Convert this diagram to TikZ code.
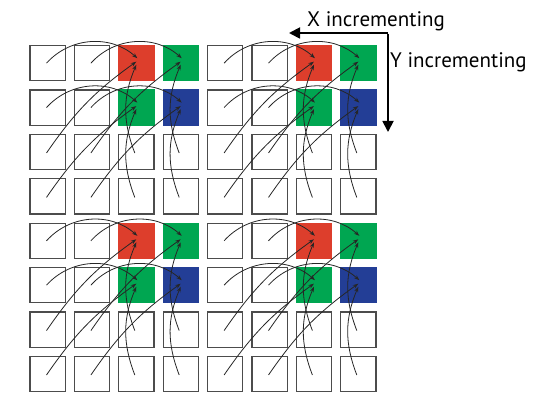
\documentclass[tikz,border=0pt]{standalone}
\usepackage{fontspec}
\setmainfont{PT Sans}
\usetikzlibrary{arrows.meta}

\definecolor{bayerred}{RGB}{221,62,44}
\definecolor{bayergreen}{RGB}{0,166,81}
\definecolor{bayerblue}{RGB}{35,62,150}

\begin{document}
\begin{tikzpicture}[
  x=1pt,
  y=-1pt,
  >=Stealth,
  every node/.style={font=\fontsize{21}{23}\selectfont},
  px0/.style={draw=black!70, line width=1.2pt, minimum size=35.2pt, inner sep=0pt, outer sep=0pt},
  px1/.style={fill=bayerred, minimum size=36.4pt, inner sep=0pt, outer sep=0pt},
  px2/.style={fill=bayergreen, minimum size=36.4pt, inner sep=0pt, outer sep=0pt},
  px3/.style={fill=bayerblue, minimum size=36.4pt, inner sep=0pt, outer sep=0pt},
  map/.style={->, draw=black!85, line width=0.8pt, >={Stealth[length=5.5pt,width=4pt]}},
  dir/.style={-{Triangle[length=11pt,width=11pt]}, line width=1.8pt},
]
  \useasboundingbox (0,0) rectangle (535,419);
  \def\pitch{44.4}
  \def\xo{47.5}
  \def\yo{63.2}

  % Pixel grid: 8x8, a coloured 2x2 in the top right of every 4x4 block
  \foreach \i in {0,...,7}{
    \foreach \j in {0,...,7}{
      \pgfmathtruncatemacro\ci{mod(\i,4)}
      \pgfmathtruncatemacro\cj{mod(\j,4)}
      \pgfmathtruncatemacro\k{(\ci>1)*(\cj<2)*(\ci-1+\cj)}
      \node[px\k] (p-\i-\j) at ({\xo+\pitch*\i},{\yo+\pitch*\j}) {};
    }
  }

  % Mapping arrows into each coloured pixel
  \foreach \bx in {0,1}{
    \foreach \by in {0,1}{
      \foreach \a in {0,1}{
        \foreach \b in {0,1}{
          \pgfmathtruncatemacro\sx{4*\bx+\a}
          \pgfmathtruncatemacro\tx{4*\bx+2+\a}
          \pgfmathtruncatemacro\ty{4*\by+\b}
          \pgfmathtruncatemacro\sy{4*\by+2+\b}
          \draw[map] ([xshift=-1pt]p-\sx-\ty.center) to[bend left=45]
            ([xshift=1pt,yshift=5pt]p-\tx-\ty.center);
          \draw[map] ([xshift=-1pt,yshift=-1pt]p-\sx-\sy.center) to[bend left=10]
            ([yshift=1.5pt]p-\tx-\ty.center);
          \draw[map] ([xshift=-1.5pt,yshift=-1pt]p-\tx-\sy.center) to[bend left=22]
            ([yshift=-1.5pt]p-\tx-\ty.center);
        }
      }
    }
  }

  % Scan directions
  \coordinate (corner) at (388,33);
  \coordinate (xend) at (289,33);
  \coordinate (yend) at (388,132);
  \draw[dir] (corner) -- (xend);
  \draw[dir] ([yshift=-0.9pt]corner) -- (yend);
  \node[anchor=base west, inner sep=0pt] (xlab) at (307,27) {X incrementing};
  \node[anchor=base west, inner sep=0pt] (ylab) at (390,68) {Y incrementing};
\end{tikzpicture}
\end{document}
